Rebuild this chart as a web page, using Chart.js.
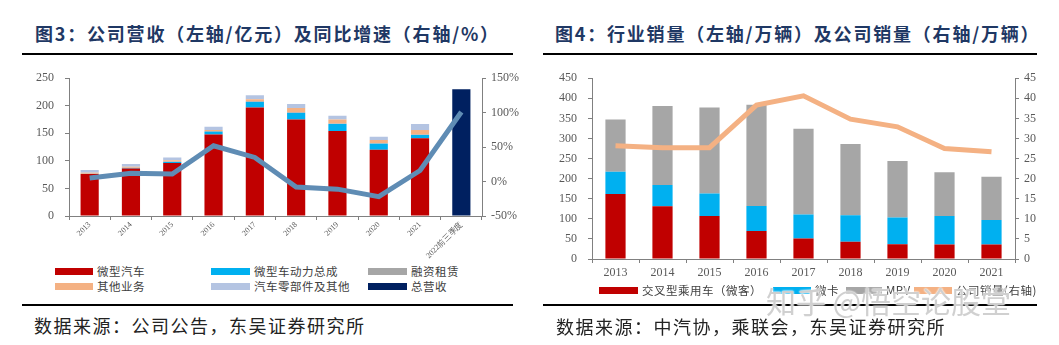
<!DOCTYPE html>
<html>
<head>
<meta charset="utf-8">
<script src="https://cdn.jsdelivr.net/npm/chart.js@4/dist/chart.umd.min.js"></script>
<style>
  html, body { margin: 0; padding: 0; background: #fff; }
  body { width: 1059px; height: 345px; position: relative; overflow: hidden; font-family: 'Noto Sans CJK SC', sans-serif; }
  .abs { position: absolute; }
  .title { font-size: 18px; font-weight: 700; color: #1F3864; letter-spacing: 1.8px; white-space: nowrap; line-height: 20px; }
  .rule { height: 2px; background: #000; }
  .source { font-size: 18px; color: #222; letter-spacing: 1.5px; white-space: nowrap; line-height: 20px; }
  .lg { font-size: 11.5px; color: #404040; white-space: nowrap; line-height: 14px; letter-spacing: 0.5px; }
  .sw { position: absolute; height: 7px; }
  .wm { font-size: 30px; color: rgba(200,200,200,0.85); white-space: nowrap; line-height: 32px;
        text-shadow: 0 0 2px #fff, 0 0 2px #fff; }
</style>
</head>
<body>
<!-- ── Figure 3 ── -->
<div class="abs title" style="left:35px; top:23px;">图3：公司营收（左轴/亿元）及同比增速（右轴/%）</div>
<div class="abs rule" style="left:22px; top:53px; width:491px;"></div>
<canvas id="revChart" class="abs" style="left:0; top:60px;"></canvas>
<div id="revLegend"></div>
<div class="abs rule" style="left:22px; top:304px; width:491px;"></div>
<div class="abs source" style="left:34px; top:315px;">数据来源：公司公告，东吴证券研究所</div>

<!-- ── Figure 4 ── -->
<div class="abs title" style="left:555px; top:23px;">图4：行业销量（左轴/万辆）及公司销量（右轴/万辆）</div>
<div class="abs rule" style="left:543px; top:53px; width:494px;"></div>
<canvas id="salesChart" class="abs" style="left:530px; top:60px;"></canvas>
<div id="salesLegend"></div>
<div class="abs rule" style="left:543px; top:304px; width:494px;"></div>
<div class="abs source" style="left:556px; top:316px;">数据来源：中汽协，乘联会，东吴证券研究所</div>
<div class="abs wm" style="left:766px; top:284px;">知乎 @悟空论股堂</div>

<script>
// ── Figure 3 data (亿元 / %) ─────────────────────────────────
const revYears = ['2013', '2014', '2015', '2016', '2017', '2018', '2019', '2020', '2021', '2022前三季度'];
const microCar   = [76, 86, 96, 148, 197, 175, 154, 120, 141, null];
const powertrain = [0, 1, 2, 5, 10, 12, 13, 11, 6, null];
const leasing    = [0.5, 0.5, 1, 1, 1, 1, 1, 1, 1, null];
const otherBiz   = [2, 2, 2, 2, 4, 8, 7, 6, 8, null];
const partsOther = [5, 5, 5, 6, 7, 7, 7, 6, 11, null];
const totalRev   = [null, null, null, null, null, null, null, null, null, 230];
const revGrowth  = [5, 12, 11, 52, 35, -8, -11, -22, 16, 101];

// ── Figure 4 data (万辆) ─────────────────────────────────────
const salesYears   = ['2013', '2014', '2015', '2016', '2017', '2018', '2019', '2020', '2021'];
const crossover    = [162, 131, 107, 70, 51, 43, 37, 36, 36];
const microTruck   = [55, 53, 56, 62, 60, 66, 66, 71, 61];
const mpvSales     = [130, 197, 214, 252, 213, 177, 141, 109, 108];
const companySales = [28.2, 27.7, 27.7, 38.3, 40.6, 34.8, 32.9, 27.5, 26.7];

// ── shared styling ───────────────────────────────────────────
const AXIS = '#808080';
const TICK = '#595959';
const SERIF = "'Liberation Serif', 'Times New Roman', serif";
const fixW = w => s => { s.width = w; };
const fixH = h => s => { s.height = h; };

function yAxis(pos, min, max, step, width, pad, fmt) {
  return {
    position: pos, min, max,
    afterFit: fixW(width),
    grid: { drawOnChartArea: false, drawTicks: true, tickLength: 4, color: AXIS },
    border: { display: true, color: AXIS, width: 1 },
    ticks: { stepSize: step, padding: pad, color: TICK, font: { family: SERIF, size: 12 },
             callback: fmt || (v => v) },
  };
}

function sizeCanvas(id, w, h) {
  const c = document.getElementById(id);
  c.width = w; c.height = h;
  c.style.width = w + 'px'; c.style.height = h + 'px';
  return c;
}

function legend(hostId, items) {
  document.getElementById(hostId).innerHTML = items.map(it =>
    `<div class="sw" style="left:${it.x}px; top:${it.y - 3}px; width:${it.w}px; background:${it.color};"></div>` +
    `<div class="abs lg" style="left:${it.x + it.w + 4}px; top:${it.y - 7}px;">${it.label}</div>`
  ).join('');
}

// ── Revenue chart ────────────────────────────────────────────
const revBar = (label, data, color) => ({
  type: 'bar', label, data, backgroundColor: color, yAxisID: 'y', stack: 's',
  barPercentage: 0.44, categoryPercentage: 1, order: 1,
});
new Chart(sizeCanvas('revChart', 530, 200), {
  data: {
    labels: revYears,
    datasets: [
      { type: 'line', label: '同比增速', data: revGrowth, yAxisID: 'y1', borderColor: '#5F8CB4',
        borderWidth: 5, pointRadius: 0, tension: 0, order: 0 },
      revBar('微型汽车', microCar, '#C00000'),
      revBar('微型车动力总成', powertrain, '#00B0F0'),
      revBar('融资租赁', leasing, '#A6A6A6'),
      revBar('其他业务', otherBiz, '#F4B183'),
      revBar('汽车零部件及其他', partsOther, '#B4C4E2'),
      revBar('总营收', totalRev, '#002060'),
    ],
  },
  options: {
    responsive: false, animation: false,
    layout: { padding: { top: 17, left: 0, right: 0, bottom: 0 } },
    plugins: { legend: { display: false }, tooltip: { enabled: false } },
    scales: {
      x: {
        stacked: true, afterFit: fixH(44),
        grid: { drawOnChartArea: false, tickLength: 4, color: AXIS, offset: true },
        border: { display: true, color: AXIS },
        ticks: { autoSkip: false, minRotation: 45, maxRotation: 45, padding: 0, color: TICK,
                 font: { family: SERIF, size: 8 } },
      },
      y: { ...yAxis('left', 0, 250, 50, 69, 11), stacked: true },
      y1: yAxis('right', -50, 150, 50, 48, 5, v => v + '%'),
    },
  },
});
legend('revLegend', [
  { x: 55, y: 271, w: 38, color: '#C00000', label: '微型汽车' },
  { x: 211, y: 271, w: 39, color: '#00B0F0', label: '微型车动力总成' },
  { x: 368, y: 271, w: 39, color: '#A6A6A6', label: '融资租赁' },
  { x: 55, y: 286, w: 38, color: '#F4B183', label: '其他业务' },
  { x: 211, y: 286, w: 39, color: '#B4C4E2', label: '汽车零部件及其他' },
  { x: 368, y: 286, w: 39, color: '#002060', label: '总营收' },
]);

// ── Industry / company sales chart ───────────────────────────
const salesBar = (label, data, color) => ({
  type: 'bar', label, data, backgroundColor: color, yAxisID: 'y', stack: 's',
  barPercentage: 0.43, categoryPercentage: 1, order: 1,
});
new Chart(sizeCanvas('salesChart', 529, 225), {
  data: {
    labels: salesYears,
    datasets: [
      { type: 'line', label: '公司销量(右轴)', data: companySales, yAxisID: 'y1', borderColor: '#F4B183',
        borderWidth: 5, pointRadius: 0, tension: 0, order: 0 },
      salesBar('交叉型乘用车（微客）', crossover, '#C00000'),
      salesBar('微卡', microTruck, '#00B0F0'),
      salesBar('MPV', mpvSales, '#A6A6A6'),
    ],
  },
  options: {
    responsive: false, animation: false,
    layout: { padding: { top: 10, left: 0, right: 0, bottom: 0 } },
    plugins: { legend: { display: false }, tooltip: { enabled: false } },
    scales: {
      x: {
        stacked: true, afterFit: fixH(26),
        grid: { drawOnChartArea: false, tickLength: 4, color: AXIS, offset: true },
        border: { display: true, color: AXIS },
        ticks: { autoSkip: false, maxRotation: 0, padding: 3, color: TICK,
                 font: { family: SERIF, size: 12 } },
      },
      y: { ...yAxis('left', 0, 450, 50, 62, 11), stacked: true },
      y1: yAxis('right', 0, 45, 5, 44, 5),
    },
  },
});
legend('salesLegend', [
  { x: 599, y: 290, w: 39, color: '#C00000', label: '交叉型乘用车（微客）' },
  { x: 773, y: 290, w: 38, color: '#00B0F0', label: '微卡' },
  { x: 846, y: 290, w: 36, color: '#A6A6A6', label: 'MPV' },
  { x: 914, y: 290, w: 38, color: '#F4B183', label: '公司销量(右轴)' },
]);
</script>
</body>
</html>
